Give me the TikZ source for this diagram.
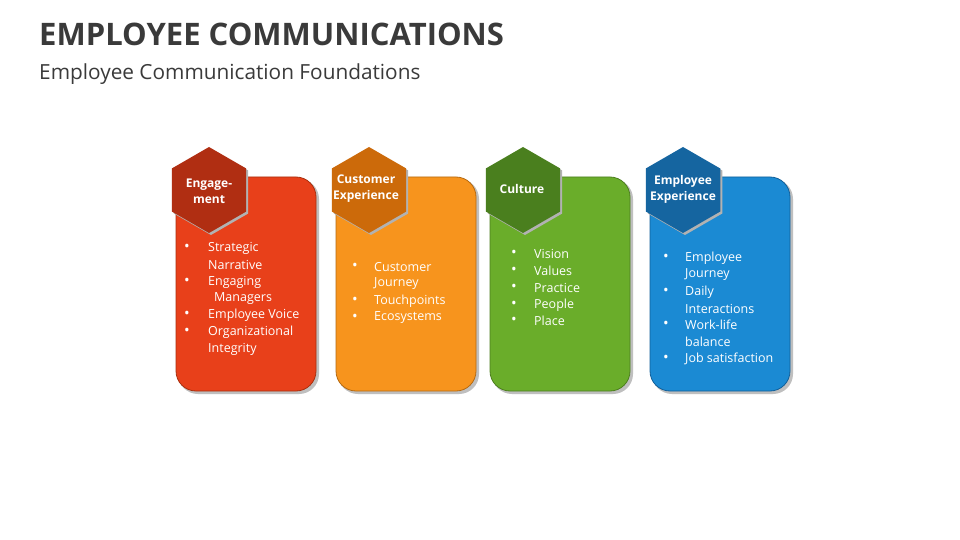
\documentclass[tikz,border=0pt]{standalone}
\usepackage{fontspec}
\setmainfont{Open Sans}
\begin{document}
\begin{tikzpicture}[x=1pt,y=-1pt,
  card/.style={rounded corners=20pt,line width=0.8pt},
  hexlab/.style={text=white,font=\fontsize{12}{16}\selectfont\bfseries,align=center,inner sep=0},
  item/.style={text=white,font=\fontsize{12.5}{16}\selectfont,anchor=west,inner sep=0},
  dot/.style={text=white,font=\fontsize{15}{16}\selectfont,anchor=center,inner sep=0}]
\definecolor{cA}{HTML}{E8401A}\definecolor{hA}{HTML}{B02E12}\definecolor{bA}{HTML}{A8300F}
\definecolor{cB}{HTML}{F7941D}\definecolor{hB}{HTML}{CC6A0A}\definecolor{bB}{HTML}{B56A12}
\definecolor{cC}{HTML}{6AAD2A}\definecolor{hC}{HTML}{4A7F1E}\definecolor{bC}{HTML}{4D7F1F}
\definecolor{cD}{HTML}{1B8AD3}\definecolor{hD}{HTML}{1565A0}\definecolor{bD}{HTML}{12609A}
\definecolor{ttl}{HTML}{3A3A3A}
\useasboundingbox (0,0) rectangle (960,540);
\fill[white] (0,0) rectangle (960,540);
\node[anchor=base west,inner sep=0,text=ttl,font=\fontsize{31}{36}\selectfont\bfseries] (title) at (39,46) {EMPLOYEE COMMUNICATIONS};
\node[anchor=base west,inner sep=0,text=ttl,font=\fontsize{20.8}{24}\selectfont] (sub) at (39,80) {Employee Communication Foundations};
% cards
\foreach \x/\c/\b/\h/\hx in {176/cA/bA/hA/209, 336/cB/bB/hB/369, 490/cC/bC/hC/523, 650/cD/bD/hD/683}{
  \fill[black!25,card] (\x+2,179) rectangle (\x+143,394);
  \draw[card,fill=\c,draw=\b] (\x,177) rectangle (\x+140,391);
  \fill[black!30] (\hx+2,192) ++(30:43) -- ++(150:43) -- ++(210:43) -- ++(270:43) -- ++(330:43) -- ++(30:43) -- cycle;
  \fill[\h] (\hx,190) ++(30:43) -- ++(150:43) -- ++(210:43) -- ++(270:43) -- ++(330:43) -- ++(30:43) -- cycle;
}
\node[hexlab] (h1) at (209,191) {Engage-\\ment};
\node[hexlab] (h2) at (366,189) {Customer\\Experience};
\node[hexlab] (h3) at (522,189) {Culture};
\node[hexlab] (h4) at (683,189) {Employee\\Experience};
% card 1
\foreach \y/\t [count=\i] in {247/Strategic,264/Narrative,281/Engaging,298/\hspace{6pt}Managers,314/Employee Voice,331/Organizational,348/Integrity}
  \node[item] (a\i) at (208,\y+1) {\t};
\foreach \y [count=\i] in {247,281,314,331}\node[dot] (ad\i) at (187,\y+1) {•};
% card 2
\foreach \y/\t [count=\i] in {266/Customer,283/Journey,300/Touchpoints,317/Ecosystems}
  \node[item] (b\i) at (374,\y+1) {\t};
\foreach \y [count=\i] in {266,300,317}\node[dot] (bd\i) at (355,\y+1) {•};
% card 3
\foreach \y/\t [count=\i] in {253/Vision,270/Values,287/Practice,304/People,320/Place}
  \node[item] (c\i) at (534,\y+1) {\t};
\foreach \y [count=\i] in {253,270,287,304,320}\node[dot] (cd\i) at (514,\y+1) {•};
% card 4
\foreach \y/\t [count=\i] in {257/Employee,274/Journey,291/Daily,308/Interactions,324/Work-life,341/balance,358/Job satisfaction}
  \node[item] (d\i) at (685,\y+1) {\t};
\foreach \y [count=\i] in {257,291,324,358}\node[dot] (dd\i) at (666,\y+1) {•};
\end{tikzpicture}
\end{document}
